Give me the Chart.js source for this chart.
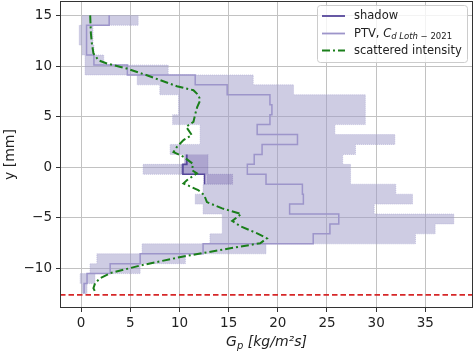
<!DOCTYPE html>
<html><head><meta charset="utf-8">
<script src="https://cdn.jsdelivr.net/npm/chart.js@4/dist/chart.umd.min.js"></script>
<style>html,body{margin:0;padding:0;background:#fff}#wrap{width:474px;height:353px;position:relative}</style>
</head><body><div id="wrap"><canvas id="c" width="474" height="353"></canvas></div>
<script>
// ---- data ----
// y bin edges of the PTV profile, top to bottom [mm]
const yEdges = [15.03, 14.05, 13.07, 12.09, 11.11, 10.12, 9.14, 8.16, 7.18, 6.19, 5.21, 4.23, 3.25, 2.27, 1.28, 0.30, -0.68, -1.66, -2.65, -3.63, -4.61, -5.59, -6.57, -7.56, -8.54, -9.52, -10.50, -11.49, -12.47];
// PTV mean mass flux per bin [kg/m2s]
const ptvMean = [2.85, 0.55, 0.55, 0.55, 1.3, 4.7, 11.6, 14.85, 19.2, 19.4, 19.2, 17.9, 22.0, 18.4, 17.6, 16.9, 18.8, 22.5, 22.6, 21.2, 26.2, 25.3, 23.6, 12.4, 6.0, 2.95, 0.6, 0.3];
const ptvMin  = [0.1, -0.2, -0.2, 0.1, 0.4, 0.4, 5.7, 8.0, 9.9, 9.9, 9.3, 12.1, 12.1, 9.05, 10.6, 6.3, 12.8, 12.4, 11.6, 12.4, 14.35, 14.35, 13.1, 6.2, 1.6, 0.9, -0.1, 0.1];
const ptvMax  = [5.8, 1.2, 1.2, 1.3, 2.3, 8.85, 17.5, 21.6, 28.9, 28.9, 28.9, 25.8, 31.9, 27.9, 26.6, 27.4, 27.4, 32.0, 33.7, 29.8, 37.9, 36.0, 34.0, 18.8, 10.6, 6.0, 1.4, 0.6];
// shadow measurement
const shadowEdges = [1.28, 0.30, -0.68, -1.66];
const shadowMean = [10.75, 10.35, 12.55];
const shadowMin  = [10.5, 10.2, 12.5];
const shadowMax  = [12.9, 12.9, 15.4];
// scattered intensity profile
const scatGp = [0.92, 0.99, 1.09, 1.25, 1.76, 2.61, 4.65, 6.68, 8.04, 9.74, 11.42, 11.93, 12.11, 11.8, 11.6, 11.42, 10.68, 11.26, 10.41, 9.74, 9.39, 10.41, 11.39, 11.26, 11.77, 10.78, 10.41, 11.9, 12.51, 12.79, 14.34, 16.28, 15.36, 16.28, 17.9, 18.89, 18.21, 15.16, 10.27, 6.0, 2.95, 1.93, 1.42, 1.25, 1.42];
const scatY  = [15.03, 13.26, 12.27, 11.28, 10.59, 10.27, 9.77, 9.11, 8.62, 8.03, 7.63, 7.14, 6.65, 5.96, 5.26, 4.50, 4.01, 3.19, 2.70, 2.03, 1.51, 1.05, 0.33, -0.27, -0.59, -1.25, -1.58, -2.24, -2.73, -3.43, -4.05, -4.61, -5.30, -5.86, -6.52, -7.01, -7.50, -8.0, -8.83, -9.7, -10.46, -10.96, -11.45, -11.94, -12.28];
// wall position
const wallY = -12.6;
// axes
const xTicks = [0, 5, 10, 15, 20, 25, 30, 35];
const yTicks = [-10, -5, 0, 5, 10, 15];
const xRange = [-2.15, 39.85];
const yRange = [-13.9, 16.45];

// ---- helpers building the library tables ----
function stepPoints(edges, vals) {
  const pts = vals.map((v, i) => ({x: v, y: edges[i]}));
  pts.push({x: vals[vals.length - 1], y: edges[edges.length - 1]});
  return pts;
}
function bandPoints(edges, lo, hi) {
  const n = lo.length;
  const pts = hi.map((v, i) => ({x: v, y: edges[i]}));
  pts.push({x: hi[n - 1], y: edges[n]});
  pts.push({x: lo[n - 1], y: edges[n]});
  for (let i = n - 1; i >= 1; i--) pts.push({x: lo[i - 1], y: edges[i]});
  pts.push({x: lo[0], y: edges[0]});
  return pts;
}

const FONT = "'DejaVu Sans', sans-serif";
const C_SHADOW = '#56479b';
const C_PTV = '#9d95ca';
const C_GREEN = '#1a7f1a';
const C_RED = '#d62728';
const GREEN_DASH = [8, 3, 2, 3];

const decor = {
  id: 'decor',
  afterDatasetsDraw(chart) {
    const {ctx, chartArea: a} = chart;
    ctx.save();
    ctx.strokeStyle = '#333';
    ctx.lineWidth = 1;
    ctx.strokeRect(Math.round(a.left) + 0.5, Math.round(a.top) + 0.5, Math.round(a.right - a.left) - 1, Math.round(a.bottom - a.top) - 1);
    ctx.restore();
  },
  afterDraw(chart) {
    const {ctx, chartArea: a} = chart;
    ctx.save();
    // x axis title with subscript
    const pieces = [
      {t: 'G', f: 'italic 14px ' + FONT, dy: 0},
      {t: 'p', f: 'italic 10px ' + FONT, dy: 3},
      {t: ' [kg/m²s]', f: 'italic 14px ' + FONT, dy: 0}
    ];
    let w = 0;
    pieces.forEach(p => { ctx.font = p.f; p.w = ctx.measureText(p.t).width; w += p.w; });
    let x = (a.left + a.right) / 2 - w / 2;
    const base = 346;
    ctx.fillStyle = '#222';
    ctx.textBaseline = 'alphabetic';
    ctx.textAlign = 'left';
    pieces.forEach(p => { ctx.font = p.f; ctx.fillText(p.t, x, base + p.dy); x += p.w; });

    // legend
    const lx = 317, ly = 5, lw = 150, lh = 57;
    ctx.beginPath();
    ctx.roundRect(lx + 0.5, ly + 0.5, lw, lh, 3);
    ctx.fillStyle = 'rgba(255,255,255,0.8)';
    ctx.fill();
    ctx.strokeStyle = '#cccccc';
    ctx.lineWidth = 1;
    ctx.stroke();
    const ds = chart.data.datasets;
    const rows = [
      {d: ds.find(d => d.label === 'shadow'), y: 16, text: [{t: 'shadow', f: '11.5px ' + FONT, dy: 0}]},
      {d: ds.find(d => d.label === 'PTV, C_d Loth−2021'), y: 33.5, text: [
        {t: 'PTV, ', f: '11.5px ' + FONT, dy: 0},
        {t: 'C', f: 'italic 11.5px ' + FONT, dy: 0},
        {t: 'd Loth', f: 'italic 8.5px ' + FONT, dy: 2.5},
        {t: ' − 2021', f: '8.5px ' + FONT, dy: 2.5}]},
      {d: ds.find(d => d.label === 'scattered intensity'), y: 50.5, text: [{t: 'scattered intensity', f: '11.5px ' + FONT, dy: 0}]}
    ];
    rows.forEach(r => {
      ctx.beginPath();
      ctx.strokeStyle = r.d.borderColor;
      ctx.lineWidth = 1.8;
      ctx.setLineDash(r.d.borderDash || []);
      ctx.moveTo(322, r.y);
      ctx.lineTo(345, r.y);
      ctx.stroke();
      ctx.setLineDash([]);
      let tx = 354;
      ctx.fillStyle = '#222';
      ctx.textBaseline = 'middle';
      r.text.forEach(p => { ctx.font = p.f; ctx.fillText(p.t, tx, r.y + 0.5 + p.dy); tx += ctx.measureText(p.t).width; });
    });
    ctx.restore();
  }
};

const tickFmt = v => v < 0 ? '\u2212' + Math.abs(v) : String(v);

new Chart(document.getElementById('c'), {
  type: 'scatter',
  data: {
    datasets: [
      {label: 'scattered intensity', data: scatGp.map((g, i) => ({x: g, y: scatY[i]})), showLine: true,
       borderColor: C_GREEN, borderWidth: 2, borderDash: GREEN_DASH, pointRadius: 0, fill: false, order: 0},
      {label: 'wall', data: [{x: xRange[0], y: wallY}, {x: xRange[1], y: wallY}], showLine: true,
       borderColor: C_RED, borderWidth: 1.6, borderDash: [5.5, 3], pointRadius: 0, fill: false, order: 1},
      {label: 'shadow', data: stepPoints(shadowEdges, shadowMean), showLine: true, stepped: 'after',
       borderColor: C_SHADOW, borderWidth: 1.6, pointRadius: 0, fill: false, order: 2},
      {label: 'shadow band', data: bandPoints(shadowEdges, shadowMin, shadowMax), showLine: true, stepped: 'after',
       borderColor: 'rgba(110,95,170,0.35)', borderWidth: 1, borderDash: [1, 1], backgroundColor: 'rgba(105,88,168,0.33)', pointRadius: 0, fill: 'shape', order: 3},
      {label: 'PTV, C_d Loth−2021', data: stepPoints(yEdges, ptvMean), showLine: true, stepped: 'after',
       borderColor: C_PTV, borderWidth: 1.5, pointRadius: 0, fill: false, order: 4},
      {label: 'PTV band', data: bandPoints(yEdges, ptvMin, ptvMax), showLine: true, stepped: 'after',
       borderColor: 'rgba(170,165,210,0.55)', borderWidth: 1, borderDash: [1, 1], backgroundColor: 'rgba(158,154,200,0.5)', pointRadius: 0, fill: 'shape', order: 5}
    ]
  },
  options: {
    responsive: false,
    animation: false,
    devicePixelRatio: 1,
    layout: {padding: {top: 1, right: 1, left: 0, bottom: 0}},
    plugins: {legend: {display: false}, tooltip: {enabled: false}},
    scales: {
      x: {
        type: 'linear', min: xRange[0], max: xRange[1],
        afterBuildTicks: s => { s.ticks = xTicks.map(v => ({value: v})); },
        afterFit: s => { s.height = 45; s.paddingLeft = 0; s.paddingRight = 0; },
        grid: {color: '#c2c2c2', lineWidth: 1, tickColor: '#333', tickLength: 4, drawTicks: true},
        border: {display: false},
        ticks: {callback: tickFmt, font: {family: FONT, size: 13.5}, color: '#222', padding: 3, maxRotation: 0, autoSkip: false},
        title: {display: false}
      },
      y: {
        type: 'linear', min: yRange[0], max: yRange[1],
        afterBuildTicks: s => { s.ticks = yTicks.map(v => ({value: v})); },
        afterFit: s => { s.width = 60; s.paddingTop = 0; s.paddingBottom = 0; },
        grid: {color: '#c2c2c2', lineWidth: 1, tickColor: '#333', tickLength: 4, drawTicks: true},
        border: {display: false},
        ticks: {callback: tickFmt, font: {family: FONT, size: 13.5}, color: '#222', padding: 4, autoSkip: false},
        title: {display: true, text: 'y [mm]', font: {family: FONT, size: 14}, color: '#222', padding: {top: 2, bottom: 0}}
      }
    }
  },
  plugins: [decor]
});
</script>
</body></html>
